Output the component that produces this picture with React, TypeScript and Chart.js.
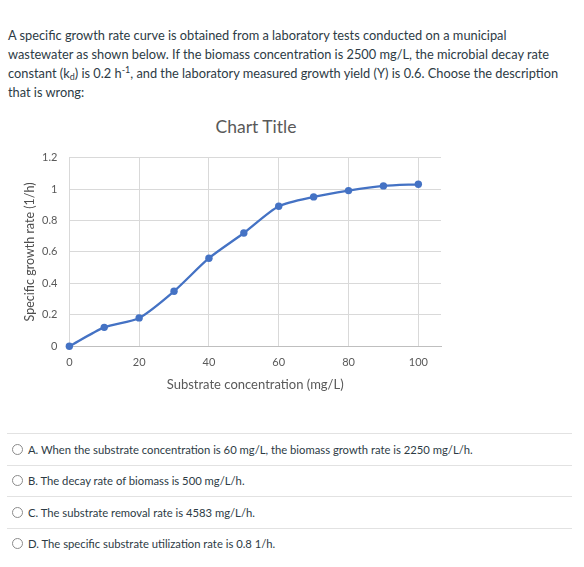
import React, { useEffect, useRef } from 'react';
import { Chart, registerables } from 'chart.js';

Chart.register(...registerables);

// Datos
const substrate = [0, 10, 20, 30, 40, 50, 60, 70, 80, 90, 100];
const growthRate = [0, 0.12, 0.18, 0.35, 0.56, 0.72, 0.89, 0.95, 0.99, 1.02, 1.03];
const xTicks = [0, 20, 40, 60, 80, 100];
const yTicks = [0, 0.2, 0.4, 0.6, 0.8, 1, 1.2];

const questionLines = [
  'A specific growth rate curve is obtained from a laboratory tests conducted on a municipal',
  'wastewater as shown below. If the biomass concentration is 2500 mg/L, the microbial decay rate',
];

const answers = [
  'A. When the substrate concentration is 60 mg/L, the biomass growth rate is 2250 mg/L/h.',
  'B. The decay rate of biomass is 500 mg/L/h.',
  'C. The substrate removal rate is 4583 mg/L/h.',
  'D. The specific substrate utilization rate is 0.8 1/h.',
];

const textColor = '#2d3b45';
const axisGray = '#595959';

const GrowthChart: React.FC = () => {
  const canvasRef = useRef<HTMLCanvasElement>(null);

  useEffect(() => {
    if (!canvasRef.current) return;
    const chart = new Chart(canvasRef.current, {
      type: 'line',
      data: {
        datasets: [
          {
            data: substrate.map((x, i) => ({ x, y: growthRate[i] })),
            borderColor: '#4472C4',
            backgroundColor: '#4472C4',
            borderWidth: 2.3,
            pointRadius: 3.7,
            pointBorderWidth: 0,
            tension: 0.25,
            clip: false,
          },
        ],
      },
      options: {
        animation: false,
        responsive: false,
        layout: { padding: { left: 22, right: 71, top: 4, bottom: 0 } },
        plugins: {
          legend: { display: false },
          tooltip: { enabled: false },
        },
        scales: {
          x: {
            type: 'linear',
            min: 0,
            max: 106.5,
            afterBuildTicks: (axis: any) => {
              axis.ticks = xTicks.map((v) => ({ value: v }));
            },
            grid: { color: '#d9d9d9', drawTicks: false },
            border: { color: '#bfbfbf' },
            ticks: { color: axisGray, font: { family: 'Lato', size: 11 }, padding: 10 },
            title: {
              display: true,
              text: 'Substrate concentration (mg/L)',
              color: axisGray,
              font: { family: 'Lato', size: 13 },
              padding: { top: -2, bottom: 0 },
            },
          },
          y: {
            min: 0,
            max: 1.2,
            afterBuildTicks: (axis: any) => {
              axis.ticks = yTicks.map((v) => ({ value: v }));
            },
            grid: { color: '#d9d9d9', drawTicks: false },
            border: { display: false },
            ticks: {
              color: axisGray,
              font: { family: 'Lato', size: 11 },
              padding: 12,
              callback: (v: any) => String(v),
            },
            title: {
              display: true,
              text: 'Specific growth rate (1/h)',
              color: '#4d4d4d',
              font: { family: 'Lato', size: 12.5 },
              padding: { top: 0, bottom: -7 },
            },
          },
        },
      },
    });
    return () => chart.destroy();
  }, []);

  return <canvas ref={canvasRef} width={512} height={254} style={{ display: 'block' }} />;
};

const App: React.FC = () => {
  return (
    <div
      style={{
        position: 'absolute',
        left: 0,
        top: 0,
        width: 584,
        height: 567,
        background: '#fff',
        fontFamily: 'Lato, sans-serif',
        color: textColor,
      }}
    >
      <div style={{ position: 'absolute', left: 8, top: 26, fontSize: 12.8, lineHeight: '19px', whiteSpace: 'nowrap' }}>
        {questionLines.map((l) => (
          <div key={l}>{l}</div>
        ))}
        <div>
          constant (k<sub style={{ fontSize: 9, lineHeight: 0, verticalAlign: -2 }}>d</sub>) is 0.2 h
          <sup style={{ fontSize: 9, lineHeight: 0, verticalAlign: 5 }}>-1</sup>, and the laboratory measured growth yield
          (Y) is 0.6. Choose the description
        </div>
        <div>that is wrong:</div>
      </div>

      <div
        style={{
          position: 'absolute',
          left: 156,
          top: 116,
          width: 200,
          textAlign: 'center',
          fontSize: 17.5,
          lineHeight: '22px',
          color: axisGray,
        }}
      >
        Chart Title
      </div>

      <div style={{ position: 'absolute', left: 0, top: 139 }}>
        <GrowthChart />
      </div>

      <div style={{ position: 'absolute', left: 7, top: 433, width: 565 }}>
        {answers.map((a) => (
          <div
            key={a}
            style={{
              borderTop: '1px solid #e2e2e2',
              height: 30.5,
              display: 'flex',
              alignItems: 'center',
              fontSize: 11.25,
              whiteSpace: 'nowrap',
            }}
          >
            <span
              style={{
                display: 'inline-block',
                width: 9,
                height: 9,
                borderRadius: '50%',
                border: '1px solid #8b8b8b',
                marginLeft: 5,
                marginRight: 5,
              }}
            />
            {a}
          </div>
        ))}
      </div>
    </div>
  );
};

export default App;
